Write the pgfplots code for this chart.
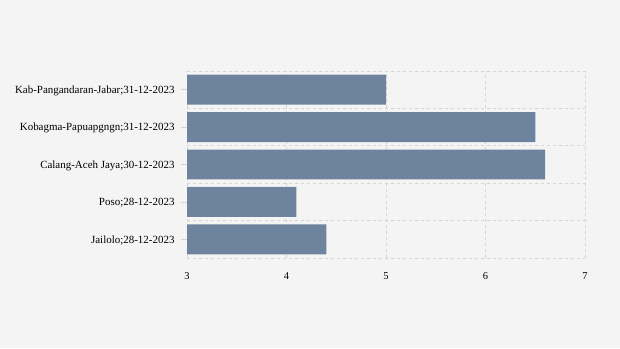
\documentclass[border=0pt]{standalone}
\usepackage{fontspec}
\setmainfont{Liberation Serif}
\usepackage{pgfplots}
\pgfplotsset{compat=1.18}
\definecolor{bg}{RGB}{244,244,244}
\definecolor{barc}{RGB}{96,119,149}
\definecolor{gridc}{RGB}{212,212,212}
\begin{document}
\begin{tikzpicture}[x=1bp,y=1bp]
\fill[bg] (0,0) rectangle (620,348);
\useasboundingbox (0,0) rectangle (620,348);
\begin{axis}[
  at={(187bp,90bp)}, anchor=south west,
  scale only axis, width=398bp, height=187bp,
  xbar, bar width=0.8,
  xmin=3, xmax=7, ymin=-0.5, ymax=4.5,
  xtick={3,4,5,6,7},
  ytick={0,1,2,3,4},
  yticklabels={Jailolo;28-12-2023,Poso;28-12-2023,Calang-Aceh Jaya;30-12-2023,Kobagma-Papuapgngn;31-12-2023,Kab-Pangandaran-Jabar;31-12-2023},
  minor ytick={-0.5,0.5,1.5,2.5,3.5,4.5},
  xmajorgrids, yminorgrids,
  major grid style={gridc, dash pattern=on 3bp off 3bp, line width=1bp},
  minor grid style={gridc, dash pattern=on 3bp off 3bp, line width=1bp},
  axis line style={draw=none},
  major tick length=6bp, minor tick length=0pt,
  xtick style={draw=none},
  ytick pos=left,
  ytick style={gridc, line width=0.8bp},
  tick align=outside,
  /pgf/number format/assume math mode=true,
  ticklabel style={font=\fontsize{11}{13}\selectfont, black},
  xticklabel style={font=\fontsize{10.5}{12}\selectfont, yshift=-5bp},
  yticklabel style={xshift=-3bp, yshift=-1bp},
  axis background/.style={fill=bg},
]
\addplot[draw=none, fill=barc, fill opacity=0.9, bar shift=0pt] coordinates {(4.4,0) (4.1,1) (6.6,2) (6.5,3) (5.0,4)};
\end{axis}
\end{tikzpicture}
\end{document}
